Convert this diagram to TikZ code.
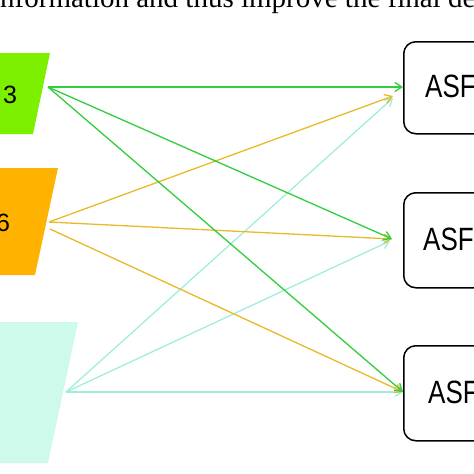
\documentclass[tikz,border=0pt]{standalone}
\usepackage{graphicx}
\usepackage{fontspec}
\setmainfont{Liberation Serif}
\newfontfamily\arialf{Liberation Sans}
\usetikzlibrary{arrows.meta}
\definecolor{gfill}{RGB}{125,240,0}
\definecolor{ofill}{RGB}{255,179,0}
\definecolor{cfill}{RGB}{206,250,236}
\definecolor{gline}{RGB}{50,205,60}
\definecolor{oline}{RGB}{232,185,40}
\definecolor{cline}{RGB}{160,238,218}
\begin{document}
\begin{tikzpicture}[x=1pt,y=-1pt,
  asfbox/.style={draw=black, line width=1.5pt, rounded corners=12pt, minimum width=130pt, inner sep=0pt, anchor=north west},
  asftext/.style={anchor=base west, inner sep=0pt, font=\arialf\fontsize{26}{28}\selectfont},
  numtext/.style={anchor=base west, inner sep=0pt, font=\arialf\fontsize{25}{28}\selectfont},
  conn/.style={line width=1.3pt, -{Straight Barb[length=7pt,width=9pt]}}]
\useasboundingbox (0,0) rectangle (474,474);
\clip (0,0) rectangle (474,474);
% top caption (cut off)
\node[anchor=base west, inner sep=0pt, font=\fontsize{29}{31}\selectfont] (cap) at (0,7) {nformation and thus improve the final de};
% left shapes
\fill[gfill] (-10,53) -- (50,53) -- (33,134) -- (-10,134) -- cycle;
\fill[ofill] (-10,168) -- (58,168) -- (35,275) -- (-10,275) -- cycle;
\fill[cfill] (-10,322) -- (78,322) -- (48,463) -- (-10,463) -- cycle;
\node[numtext] (n3) at (3,103) {3};
\node[numtext] (n6) at (-4,231) {6};
% right boxes
\node[asfbox, minimum height=92pt] (b1) at (403,41) {};
\node[asfbox, minimum height=95pt] (b2) at (403,192) {};
\node[asfbox, minimum height=95pt] (b3) at (403,345) {};
\node[asftext] (a1) at (425,97) {\scalebox{1}[1.24]{ASF}};
\node[asftext] (a2) at (423,250) {\scalebox{1}[1.24]{ASF}};
\node[asftext] (a3) at (428,403) {\scalebox{1}[1.24]{ASF}};
% sources and targets
\coordinate (g) at (48,87);
\coordinate (o1) at (49,222);
\coordinate (o2) at (50,229);
\coordinate (c) at (66,392);
\coordinate (t1) at (393,96);
\coordinate (t1c) at (393,98);
\coordinate (t2) at (392,239);
\coordinate (t2c) at (390,241);
% connectors
\draw[conn, cline] (c) -- (t1c);
\draw[conn, cline] (c) -- (t2c);
\draw[conn, cline] (c) -- (b3.west |- 0,392);
\draw[conn, oline] (o1) -- (t1);
\draw[conn, oline] (o1) -- (t2);
\draw[conn, oline] (o2) -- (b3.west |- 0,392);
\draw[conn, gline] (g) -- (b1.west |- 0,87);
\draw[conn, gline] (g) -- (t2);
\draw[conn, gline] (g) -- (b3.west |- 0,392);
\end{tikzpicture}
\end{document}
